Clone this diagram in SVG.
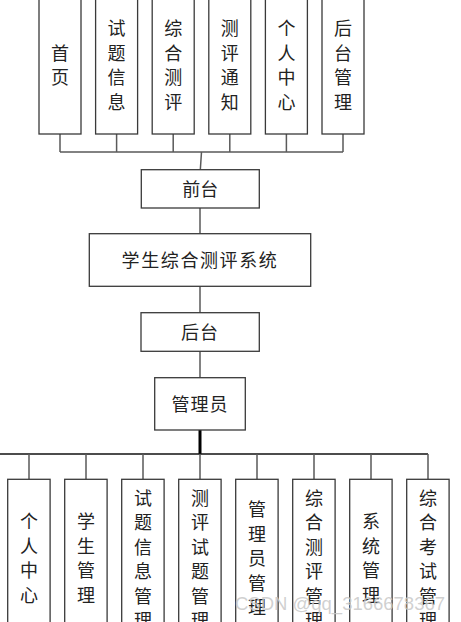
<svg xmlns="http://www.w3.org/2000/svg" width="461" height="622" viewBox="0 0 461 622">
<style>
.box{fill:#fff;stroke:#3a3a3a;stroke-width:1.3}
.t{font-family:"Noto Sans CJK SC","Noto Sans",sans-serif;font-size:18px;fill:#222;text-anchor:middle}
.c{fill:none;stroke:#5a5a5a;stroke-width:1.5}
.k{fill:none;stroke:#111;stroke-width:1.5}
.wm{font-family:"Liberation Sans",Arial,sans-serif;font-size:19px;fill:#c8c8c8;fill-opacity:0.85}
</style>
<rect width="461" height="622" fill="#fff"/>
<g id="connectors">
<path class="c" d="M60,134V152M116.6,134V152M173.2,134V152M229.8,134V152M286.4,134V152M343,134V152M60,152H343M201.5,152L200.3,170"/>
<path class="c" d="M200,208V234M200,286V313M200,351V378"/>
<path d="M200,430V454" fill="none" stroke="#000" stroke-width="3"/>
<path class="k" d="M-5,454H428"/>
<path class="c" d="M29,454V479M86,454V479M143,454V479M200,454V479M257,454V479M314,454V479M371,454V479M428,454V479"/>
</g>
<g id="n-shouye"><rect class="box" x="39" y="-4" width="42" height="138"/><text class="t" x="60" y="59.5">首<tspan x="60" dy="24.5">页</tspan></text></g>
<g id="n-shiti"><rect class="box" x="95.6" y="-4" width="42" height="138"/><text class="t" x="116.6" y="35">试<tspan x="116.6" dy="24.5">题</tspan><tspan x="116.6" dy="24.5">信</tspan><tspan x="116.6" dy="24.5">息</tspan></text></g>
<g id="n-zonghe"><rect class="box" x="152.2" y="-4" width="42" height="138"/><text class="t" x="173.2" y="35">综<tspan x="173.2" dy="24.5">合</tspan><tspan x="173.2" dy="24.5">测</tspan><tspan x="173.2" dy="24.5">评</tspan></text></g>
<g id="n-tongzhi"><rect class="box" x="208.8" y="-4" width="42" height="138"/><text class="t" x="229.8" y="35">测<tspan x="229.8" dy="24.5">评</tspan><tspan x="229.8" dy="24.5">通</tspan><tspan x="229.8" dy="24.5">知</tspan></text></g>
<g id="n-geren"><rect class="box" x="265.4" y="-4" width="42" height="138"/><text class="t" x="286.4" y="35">个<tspan x="286.4" dy="24.5">人</tspan><tspan x="286.4" dy="24.5">中</tspan><tspan x="286.4" dy="24.5">心</tspan></text></g>
<g id="n-houtaiguanli"><rect class="box" x="322" y="-4" width="42" height="138"/><text class="t" x="343" y="35">后<tspan x="343" dy="24.5">台</tspan><tspan x="343" dy="24.5">管</tspan><tspan x="343" dy="24.5">理</tspan></text></g>
<g id="n-qiantai"><rect class="box" x="141.3" y="169.7" width="118" height="38.3"/><text class="t" x="200.3" y="196">前台</text></g>
<g id="n-system"><rect class="box" x="89.3" y="233.7" width="221.4" height="52.6"/><text class="t" x="200" y="267" letter-spacing="1.6">学生综合测评系统</text></g>
<g id="n-houtai"><rect class="box" x="141" y="312.7" width="118.3" height="38.6"/><text class="t" x="200" y="339" letter-spacing="1">后台</text></g>
<g id="n-admin"><rect class="box" x="154.7" y="377.7" width="90.6" height="52.3"/><text class="t" x="200" y="410.5" letter-spacing="1">管理员</text></g>
<g id="b-geren"><rect class="box" x="7.7" y="479.3" width="42.4" height="170"/><text class="t" x="29" y="528">个<tspan x="29" dy="24.5">人</tspan><tspan x="29" dy="24.5">中</tspan><tspan x="29" dy="24.5">心</tspan></text></g>
<g id="b-xuesheng"><rect class="box" x="64.7" y="479.3" width="42.4" height="170"/><text class="t" x="86" y="528">学<tspan x="86" dy="24.5">生</tspan><tspan x="86" dy="24.5">管</tspan><tspan x="86" dy="24.5">理</tspan></text></g>
<g id="b-shiti"><rect class="box" x="121.7" y="479.3" width="42.4" height="170"/><text class="t" x="143" y="504.5">试<tspan x="143" dy="24.5">题</tspan><tspan x="143" dy="24.5">信</tspan><tspan x="143" dy="24.5">息</tspan><tspan x="143" dy="24.5">管</tspan><tspan x="143" dy="24.5">理</tspan></text></g>
<g id="b-ceping"><rect class="box" x="178.7" y="479.3" width="42.4" height="170"/><text class="t" x="200" y="504.5">测<tspan x="200" dy="24.5">评</tspan><tspan x="200" dy="24.5">试</tspan><tspan x="200" dy="24.5">题</tspan><tspan x="200" dy="24.5">管</tspan><tspan x="200" dy="24.5">理</tspan></text></g>
<g id="b-guanliyuan"><rect class="box" x="235.7" y="479.3" width="42.4" height="170"/><text class="t" x="257" y="516">管<tspan x="257" dy="24.5">理</tspan><tspan x="257" dy="24.5">员</tspan><tspan x="257" dy="24.5">管</tspan><tspan x="257" dy="24.5">理</tspan></text></g>
<g id="b-zonghe"><rect class="box" x="292.7" y="479.3" width="42.4" height="170"/><text class="t" x="314" y="504.5">综<tspan x="314" dy="24.5">合</tspan><tspan x="314" dy="24.5">测</tspan><tspan x="314" dy="24.5">评</tspan><tspan x="314" dy="24.5">管</tspan><tspan x="314" dy="24.5">理</tspan></text></g>
<g id="b-xitong"><rect class="box" x="349.7" y="479.3" width="42.4" height="170"/><text class="t" x="371" y="528">系<tspan x="371" dy="24.5">统</tspan><tspan x="371" dy="24.5">管</tspan><tspan x="371" dy="24.5">理</tspan></text></g>
<g id="b-kaoshi"><rect class="box" x="406.7" y="479.3" width="42.4" height="170"/><text class="t" x="428" y="504.5">综<tspan x="428" dy="24.5">合</tspan><tspan x="428" dy="24.5">考</tspan><tspan x="428" dy="24.5">试</tspan><tspan x="428" dy="24.5">管</tspan><tspan x="428" dy="24.5">理</tspan></text></g>
<g id="watermark"><text class="wm" x="235" y="610" textLength="210" lengthAdjust="spacingAndGlyphs">CSDN @qq_3166678367</text></g>
</svg>
